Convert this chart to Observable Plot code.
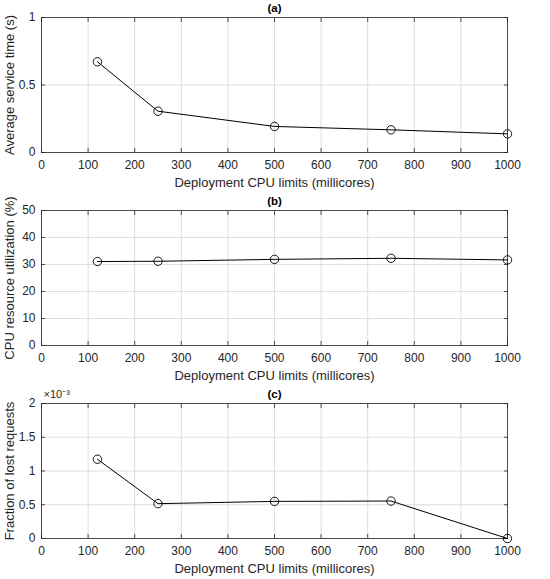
<!DOCTYPE html>
<html><head><meta charset="utf-8">
<script src="https://cdn.jsdelivr.net/npm/d3@7"></script>
<script src="https://cdn.jsdelivr.net/npm/@observablehq/plot@0.6"></script>
<style>
body{margin:0;background:#fff;}
#c{width:550px;}
#c svg{display:block;}
</style></head>
<body><div id="c"></div>
<script>
const cpuLimits = [120, 250, 500, 750, 1000];
const serviceTime = [0.672, 0.306, 0.193, 0.168, 0.138];
const cpuUtil = [31.1, 31.2, 31.9, 32.3, 31.7];
const lostFraction = [0.001174, 0.000516, 0.000550, 0.000555, 0.0];
const xTicks = [0,100,200,300,400,500,600,700,800,900,1000];
const yTicksA = [0, 0.5, 1];
const yTicksB = [0, 10, 20, 30, 40, 50];
const yTicksC = [0, 0.0005, 0.001, 0.0015, 0.002];
const xLabel = "Deployment CPU limits (millicores)";

const FONT = "'Liberation Sans', Arial, Helvetica, sans-serif";
const INK = "#262626";

function panel({values, yDomain, yTicks, yLabel, title, tickFormat, exponent}) {
  const data = cpuLimits.map((x, i) => ({x, y: values[i]}));
  const marks = [
    Plot.gridX(xTicks, {stroke: "#dedede", strokeOpacity: 1}),
    Plot.gridY(yTicks, {stroke: "#dedede", strokeOpacity: 1}),
    Plot.frame({stroke: INK, strokeWidth: 0.8}),
    Plot.axisX(xTicks, {anchor: "bottom", tickSize: -4, tickPadding: 12, label: null, fontSize: 12, fill: INK, stroke: INK, strokeWidth: 0.8, tickFormat: d => String(d)}),
    Plot.axisX(xTicks, {anchor: "top", tickSize: -4, text: null, label: null, stroke: INK, strokeWidth: 0.8}),
    Plot.axisY(yTicks, {anchor: "left", tickSize: -4, tickPadding: 10, label: null, fontSize: 12, fill: INK, stroke: INK, strokeWidth: 0.8, tickFormat}),
    Plot.axisY(yTicks, {anchor: "right", tickSize: -4, text: null, label: null, stroke: INK, strokeWidth: 0.8}),
    Plot.line(data, {x: "x", y: "y", stroke: "#000", strokeWidth: 1}),
    Plot.dot(data, {x: "x", y: "y", r: 4.2, stroke: "#000", strokeWidth: 0.9, fill: "none"}),
    Plot.text([title], {frameAnchor: "top", dy: -9, lineAnchor: "middle", fontWeight: "bold", fontSize: 11.5, fill: "#000"}),
    Plot.text([xLabel], {frameAnchor: "bottom", dy: 30, lineAnchor: "middle", fontSize: 13, fill: INK}),
    Plot.text([yLabel], {frameAnchor: "left", dx: -31.5, rotate: -90, textAnchor: "middle", lineAnchor: "middle", fontSize: 13, fill: INK})
  ];
  if (exponent) {
    marks.push(Plot.text([exponent], {frameAnchor: "top-left", dx: 2, dy: -9, textAnchor: "start", lineAnchor: "middle", fontSize: 11, fill: INK}));
  }
  return Plot.plot({
    width: 550,
    height: 193,
    marginLeft: 41,
    marginRight: 43,
    marginTop: 17,
    marginBottom: 41,
    style: {fontFamily: FONT, background: "#fff", color: INK, overflow: "visible"},
    x: {domain: [0, 1000], axis: null},
    y: {domain: yDomain, axis: null},
    marks
  });
}

const c = document.getElementById("c");
c.append(panel({values: serviceTime, yDomain: [0, 1], yTicks: yTicksA, yLabel: "Average service time (s)", title: "(a)", tickFormat: d => String(d)}));
c.append(panel({values: cpuUtil, yDomain: [0, 50], yTicks: yTicksB, yLabel: "CPU resource utilization (%)", title: "(b)", tickFormat: d => String(d)}));
c.append(panel({values: lostFraction, yDomain: [0, 0.002], yTicks: yTicksC, yLabel: "Fraction of lost requests", title: "(c)", tickFormat: d => String(+(d * 1000).toFixed(1)), exponent: "×10⁻³"}));
</script></body></html>
